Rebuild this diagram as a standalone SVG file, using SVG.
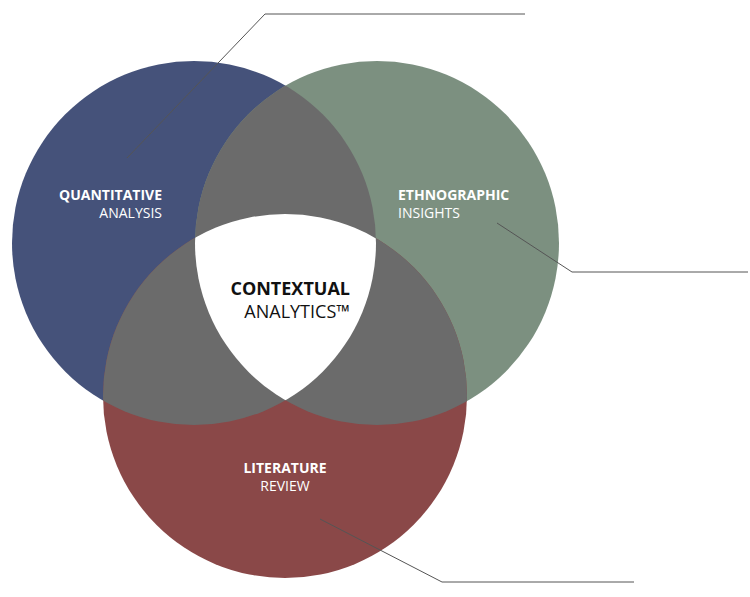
<svg xmlns="http://www.w3.org/2000/svg" width="750" height="597" viewBox="0 0 750 597">
<style>
.b{font-family:"Open Sans","Liberation Sans",sans-serif;font-weight:700;font-size:14px;fill:#fff}
.l{font-family:"Open Sans","Liberation Sans",sans-serif;font-size:14px;fill:#fff}
.ln{fill:none;stroke:#555;stroke-width:1}
</style>
<defs>
<clipPath id="cA"><circle cx="194" cy="243" r="182"/></clipPath>
<clipPath id="cB"><circle cx="377" cy="243" r="182"/></clipPath>
<clipPath id="cC"><circle cx="285" cy="396" r="182"/></clipPath>
</defs>
<rect width="750" height="597" fill="#fff"/>
<g id="quantitative"><circle cx="194" cy="243" r="182" fill="#45527a"/></g>
<g id="ethnographic"><circle cx="377" cy="243" r="182" fill="#7c9080"/></g>
<g id="literature"><circle cx="285" cy="396" r="182" fill="#8a4848"/></g>
<g id="overlaps" fill="#6b6b6b">
<g clip-path="url(#cA)"><circle cx="377" cy="243" r="182"/><circle cx="285" cy="396" r="182"/></g>
<g clip-path="url(#cB)"><circle cx="285" cy="396" r="182"/></g>
</g>
<g id="contextual"><g clip-path="url(#cA)"><g clip-path="url(#cB)"><circle cx="285" cy="396" r="182" fill="#fff"/></g></g></g>
<g id="connectors">
<polyline class="ln" points="127,158 265,14 525,14"/>
<polyline class="ln" points="497,223 572,272 748,272"/>
<polyline class="ln" points="320,519 442,582 634,582"/>
</g>
<g id="labels">
<text class="b" x="162" y="200" text-anchor="end">QUANTITATIVE</text>
<text class="l" x="162" y="218" text-anchor="end">ANALYSIS</text>
<text class="b" x="398" y="200">ETHNOGRAPHIC</text>
<text class="l" x="398" y="218">INSIGHTS</text>
<text class="b" x="285" y="473" text-anchor="middle">LITERATURE</text>
<text class="l" x="285" y="491" text-anchor="middle">REVIEW</text>
<text x="350" y="295" text-anchor="end" style="font-family:'Open Sans','Liberation Sans',sans-serif;font-weight:700;font-size:18px;fill:#111">CONTEXTUAL</text>
<text x="350" y="318" text-anchor="end" style="font-family:'Open Sans','Liberation Sans',sans-serif;font-size:18px;fill:#111">ANALYTICS™</text>
</g>
</svg>
